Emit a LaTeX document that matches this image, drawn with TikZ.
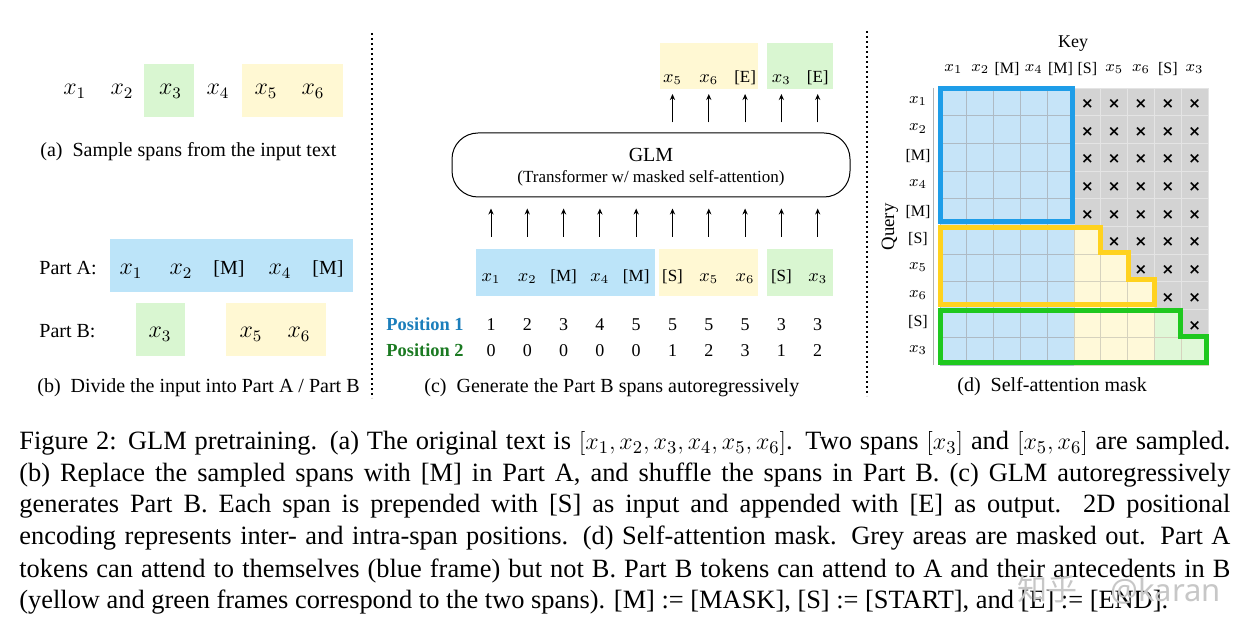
\documentclass[tikz,border=0pt]{standalone}
\usepackage[no-math]{fontspec}
\setmainfont{Liberation Serif}
\newfontfamily\cjkfont{Noto Sans CJK SC}
\newfontfamily\wmfont{Noto Sans}
\newfontfamily\xfont{DejaVu Sans}
\usetikzlibrary{arrows.meta}
\definecolor{boxblue}{HTML}{BCE4F9}
\definecolor{boxgreen}{HTML}{D9F6D1}
\definecolor{boxyellow}{HTML}{FFF8D3}
\definecolor{cellblue}{HTML}{C6E4F8}
\definecolor{cellyellow}{HTML}{FFF9D9}
\definecolor{cellgreen}{HTML}{E0F8D8}
\definecolor{cellgray}{HTML}{D3D3D3}
\definecolor{gridc}{HTML}{AEBAC4}
\definecolor{gridy}{HTML}{D6D2BE}
\definecolor{gridg}{HTML}{E4E4E4}
\definecolor{frameblue}{HTML}{1E9DE8}
\definecolor{frameyellow}{HTML}{FFD21F}
\definecolor{framegreen}{HTML}{1FC81F}
\definecolor{posone}{HTML}{1B7EBB}
\definecolor{postwo}{HTML}{1B7A22}
\newcommand\gcell[3]{\filldraw[#3] ({940+(#2-1)*26.8},{88+(#1-1)*27.7}) rectangle ++(26.8,27.7);}
\newcommand\capline[1]{\makebox[605.5pt][s]{#1}}
\begin{document}
\begin{tikzpicture}[x=0.5pt,y=-0.5pt,
 tok/.style={anchor=base, inner sep=0pt, outer sep=0pt},
 tka/.style={tok, font=\fontsize{12}{14}\selectfont},
 tkb/.style={tok, font=\fontsize{11.5}{14}\selectfont},
 tkbt/.style={tok, font=\fontsize{10}{12}\selectfont},
 tkc/.style={tok, font=\fontsize{9}{11}\selectfont},
 tkct/.style={tok, font=\fontsize{8.5}{10}\selectfont},
 lab/.style={anchor=base west, inner sep=0pt, font=\fontsize{10}{12}\selectfont},
 subcap/.style={anchor=base west, inner sep=0pt, font=\fontsize{10}{12}\selectfont},
 num/.style={tok, font=\fontsize{9}{11}\selectfont},
 poslab/.style={anchor=base east, inner sep=0pt, font=\bfseries\fontsize{9.2}{11}\selectfont},
 dlab/.style={inner sep=0pt, font=\fontsize{8}{9}\selectfont},
 xmk/.style={inner sep=0pt, font=\xfont\bfseries\fontsize{7.5}{8}\selectfont, yshift=-1pt},
 glmbox/.style={draw, line width=0.5pt, rounded corners=13pt, minimum width=199pt, minimum height=32pt, inner sep=0pt},
 arr/.style={line width=0.5pt, -{Stealth[length=3pt,width=2.6pt]}},
 sepline/.style={line width=1pt, dash pattern=on 1.2pt off 1.3pt},
 maskframe/.style={line width=2.5pt, line join=miter},
 capl/.style={anchor=base west, inner sep=0pt, font=\fontsize{13.2}{15}\selectfont},
 cA/.style={fill=cellblue, draw=gridc, line width=0.4pt},
 cY/.style={fill=cellyellow, draw=gridy, line width=0.4pt},
 cG/.style={fill=cellgreen, draw=gridy, line width=0.4pt},
 cM/.style={fill=cellgray, draw=gridg, line width=0.4pt},
]
\path[use as bounding box, fill=white] (0,0) rectangle (1260,636);

% separators
\draw[sepline] (372,33) -- (372,398);
\draw[sepline] (867,31) -- (867,396);

% ---------- panel (a)
\fill[boxgreen] (144,64) rectangle (194,117);
\fill[boxyellow] (242,64) rectangle (343,117);
\node[tka] (a1) at (74.7,95) {$x_1$};
\node[tka] (a2) at (122,95) {$x_2$};
\node[tka] (a3) at (170.5,95) {$x_3$};
\node[tka] (a4) at (218,95) {$x_4$};
\node[tka] (a5) at (266,95) {$x_5$};
\node[tka] (a6) at (313,95) {$x_6$};
\node[subcap] (capa) at (40,157) {(a)\enspace Sample spans from the input text};

% ---------- panel (b)
\fill[boxblue] (110,239) rectangle (353,292);
\fill[boxgreen] (136,303) rectangle (185,356);
\fill[boxyellow] (226,303) rectangle (326,356);
\node[lab] (pa) at (39,275) {Part A:};
\node[lab] (pb) at (39,338) {Part B:};
\node[tkb] (b1) at (131,275) {$x_1$};
\node[tkb] (b2) at (181,275) {$x_2$};
\node[tkbt] (b3) at (229,275) {[M]};
\node[tkb] (b4) at (280,275) {$x_4$};
\node[tkbt] (b5) at (328,275) {[M]};
\node[tkb] (b6) at (160,338) {$x_3$};
\node[tkb] (b7) at (251,338) {$x_5$};
\node[tkb] (b8) at (299,338) {$x_6$};
\node[subcap] (capb) at (37,393) {(b)\enspace Divide the input into Part A / Part B};

% ---------- panel (c)
\fill[boxblue] (476,249) rectangle (655,296);
\fill[boxyellow] (659,249) rectangle (758,296);
\fill[boxgreen] (767,249) rectangle (833,296);
\fill[boxyellow] (660,43) rectangle (758,89);
\fill[boxgreen] (767,43) rectangle (833,89);

\node[glmbox] (glm) at (651,165) {};
\node[tok, font=\fontsize{10}{12}\selectfont] (glmt) at (651,162) {GLM};
\node[tok, font=\fontsize{8.5}{10}\selectfont] (glms) at (651,183) {(Transformer w/ masked self-attention)};

\node[tkc]  (ci1)  at (491,282)   {$x_1$};
\node[tkc]  (ci2)  at (527.3,282) {$x_2$};
\node[tkct] (ci3)  at (563.6,282) {[M]};
\node[tkc]  (ci4)  at (599.9,282) {$x_4$};
\node[tkct] (ci5)  at (636.2,282) {[M]};
\node[tkct] (ci6)  at (672.5,282) {[S]};
\node[tkc]  (ci7)  at (708.8,282) {$x_5$};
\node[tkc]  (ci8)  at (745.1,282) {$x_6$};
\node[tkct] (ci9)  at (781.4,282) {[S]};
\node[tkc]  (ci10) at (817.7,282) {$x_3$};

\node[tkc]  (co1) at (672.5,83) {$x_5$};
\node[tkc]  (co2) at (708.8,83) {$x_6$};
\node[tkct] (co3) at (745.1,83) {[E]};
\node[tkc]  (co4) at (781.4,83) {$x_3$};
\node[tkct] (co5) at (817.7,83) {[E]};

\foreach \k in {1,...,10} \draw[arr, shorten >=5.5pt] (ci\k |- 0,237) -- (ci\k |- glm.south);
\foreach \k in {1,...,5} \draw[arr, shorten <=5pt] (co\k |- glm.north) -- (co\k |- 0,94);

\node[poslab, text=posone] (p1) at (464,331) {Position 1};
\node[poslab, text=postwo] (p2) at (464,357) {Position 2};
\foreach \v [count=\k] in {1,2,3,4,5,5,5,5,3,3}
  \node[num] (pn\k) at ({491+36.3*(\k-1)},331) {\v};
\foreach \v [count=\k] in {0,0,0,0,0,1,2,3,1,2}
  \node[num] (pm\k) at ({491+36.3*(\k-1)},357) {\v};
\node[subcap] (capc) at (424,393) {(c)\enspace Generate the Part B spans autoregressively};

% ---------- panel (d)
\foreach \i in {1,...,10} {\foreach \j in {1,...,5} {\gcell{\i}{\j}{cA}}}
\foreach \i/\j in {6/6,7/6,7/7,8/6,8/7,8/8,9/6,9/7,9/8,10/6,10/7,10/8} {\gcell{\i}{\j}{cY}}
\foreach \i/\j in {9/9,10/9,10/10} {\gcell{\i}{\j}{cG}}
\foreach \i/\j in {1/6,1/7,1/8,1/9,1/10,2/6,2/7,2/8,2/9,2/10,3/6,3/7,3/8,3/9,3/10,4/6,4/7,4/8,4/9,4/10,5/6,5/7,5/8,5/9,5/10,6/7,6/8,6/9,6/10,7/8,7/9,7/10,8/9,8/10,9/10}{
  \gcell{\i}{\j}{cM}
  \node[xmk] (xm\i-\j) at ({940+(\j-0.5)*26.8},{88+(\i-0.5)*27.7}) {×};
}
\draw[maskframe, frameblue] (940.5,88.5) rectangle (1072.5,222);
\draw[maskframe, frameyellow] (940.5,227.5) -- (1100.5,227.5) -- (1100.5,252.5) -- (1128,252.5) -- (1128,279.5) -- (1154,279.5) -- (1154,304.5) -- (940.5,304.5) -- cycle;
\draw[maskframe, framegreen] (940.5,310.5) -- (1180.5,310.5) -- (1180.5,337) -- (1206.5,337) -- (1206.5,363) -- (940.5,363) -- cycle;
\draw[black!30, line width=0.4pt] (933,88) -- (933,365);

\node[tok, font=\fontsize{9}{11}\selectfont] (key) at (1073,48) {Key};
\node[rotate=90, inner sep=0pt, font=\fontsize{9.4}{11}\selectfont] (query) at (890,227) {Query};
\foreach \t [count=\j] in {$x_1$,$x_2$,[M],$x_4$,[M],[S],$x_5$,$x_6$,[S],$x_3$}
  \node[dlab] (kl\j) at ({940+(\j-0.5)*26.8},69) {\t};
\foreach \t [count=\i] in {$x_1$,$x_2$,[M],$x_4$,[M],[S],$x_5$,$x_6$,[S],$x_3$}
  \node[dlab] (ql\i) at (918,{88+(\i-0.5)*27.7-1}) {\t};
\node[subcap] (capd) at (957,392) {(d)\enspace Self-attention mask};

% ---------- caption
\node[capl] (cap1) at (19,450) {\capline{Figure 2: GLM pretraining. (a) The original text is $[x_1,x_2,x_3,x_4,x_5,x_6]$. Two spans $[x_3]$ and $[x_5,x_6]$ are sampled.}};
\node[capl] (cap2) at (19,482) {\capline{(b) Replace the sampled spans with [M] in Part A, and shuffle the spans in Part B. (c) GLM autoregressively}};
\node[capl] (cap3) at (19,513) {\capline{generates Part B. Each span is prepended with [S] as input and appended with [E] as output.\ \ 2D positional}};
\node[capl] (cap4) at (19,545) {\capline{encoding represents inter- and intra-span positions. (d) Self-attention mask. Grey areas are masked out. Part A}};
\node[capl] (cap5) at (19,577) {\capline{tokens can attend to themselves (blue frame) but not B. Part B tokens can attend to A and their antecedents in B}};
\node[capl] (cap6) at (19,609) {(yellow and green frames correspond to the two spans). [M] := [MASK], [S] := [START], and [E] := [END].};

% ---------- watermark
\node[anchor=base west, inner sep=0pt, font=\cjkfont\fontsize{15}{16}\selectfont, text=black!22] (wm1) at (1017,600) {知乎};
\node[anchor=base west, inner sep=0pt, font=\wmfont\fontsize{15.5}{16}\selectfont, text=black!22] (wm2) at (1110,602) {@karan};
\end{tikzpicture}
\end{document}
